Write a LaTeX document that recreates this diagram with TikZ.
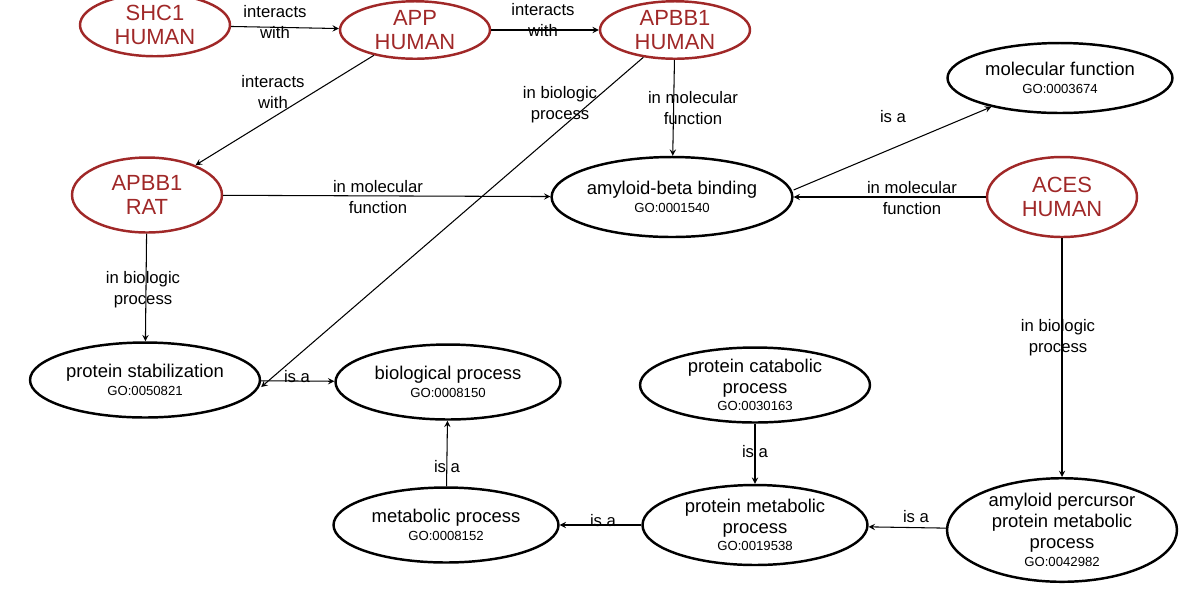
\documentclass[tikz,border=0pt]{standalone}
\usepackage{fontspec}
\setmainfont{Liberation Sans}
\usetikzlibrary{shapes.geometric}
\definecolor{dred}{RGB}{160,40,40}
\begin{document}
\begin{tikzpicture}[x=0.02cm,y=-0.02cm,
 prot/.style={ellipse,draw=dred,line width=1.4pt,text=dred,font=\fontsize{12.5}{14}\selectfont,align=center,inner sep=0pt},
 go/.style={ellipse,draw=black,line width=1.4pt,font=\fontsize{10.5}{12}\selectfont,align=center,inner sep=0pt},
 lab/.style={font=\fontsize{9.5}{12}\selectfont,align=center,inner sep=1pt},
 ar/.style={->,>=stealth,line width=0.6pt}]
\useasboundingbox (0,0) rectangle (1200,600);
\newcommand{\gonum}[1]{\\[-2pt]{\fontsize{7.5}{8}\selectfont #1}}
\node[prot,minimum width=3cm,minimum height=1.25cm] (shc) at (155,25) {SHC1\\HUMAN};
\node[prot,minimum width=3cm,minimum height=1.15cm] (app) at (415,30) {APP\\HUMAN};
\node[prot,minimum width=3cm,minimum height=1.15cm] (apbh) at (675,30) {APBB1\\HUMAN};
\node[go,minimum width=4.5cm,minimum height=1.4cm] (mf) at (1060,78) {molecular function\gonum{GO:0003674}};
\node[prot,minimum width=3cm,minimum height=1.5cm] (apbr) at (147,195) {APBB1\\RAT};
\node[go,minimum width=4.3cm,minimum height=1.6cm] (ab) at (672,197) {amyloid-beta binding\gonum{GO:0001540}};
\node[prot,minimum width=3cm,minimum height=1.6cm] (aces) at (1062,197) {ACES\\HUMAN};
\node[go,minimum width=4.6cm,minimum height=1.5cm] (ps) at (145,380) {protein stabilization\gonum{GO:0050821}};
\node[go,minimum width=4.5cm,minimum height=1.5cm] (bp) at (448,382) {biological process\gonum{GO:0008150}};
\node[go,minimum width=4.6cm,minimum height=1.5cm] (pc) at (755,385) {protein catabolic\\process\gonum{GO:0030163}};
\node[go,minimum width=4.5cm,minimum height=1.5cm] (mp) at (446,525) {metabolic process\gonum{GO:0008152}};
\node[go,minimum width=4.5cm,minimum height=1.6cm] (pm) at (755,525) {protein metabolic\\process\gonum{GO:0019538}};
\node[go,minimum width=4.6cm,minimum height=2cm] (ap) at (1062,530) {amyloid percursor\\protein metabolic\\process\gonum{GO:0042982}};
\draw[ar] (shc) -- (app);
\draw[ar] (app) -- (apbh);
\draw[ar] (app) -- (apbr);
\draw[ar] (apbh) -- ([yshift=-4pt]ps.east);
\draw[ar] (apbh) -- (ab);
\draw[ar] ([yshift=4pt]ab.east) -- (mf);
\draw[ar] (apbr) -- (ab);
\draw[ar] (aces) -- (ab);
\draw[ar] (apbr) -- (ps);
\draw[ar] (aces) -- (ap);
\draw[ar] (ps) -- (bp);
\draw[ar] (mp) -- (bp);
\draw[ar] (pc) -- (pm);
\draw[ar] (pm) -- (mp);
\draw[ar] (ap) -- (pm);
\node[lab] (l1) at (275,22) {interacts\\with};
\node[lab] (l2) at (543,20) {interacts\\with};
\node[lab] (l3) at (273,92) {interacts\\with};
\node[lab] (l4) at (560,105) {in biologic\\process};
\node[lab] (l5) at (693,108) {in molecular\\function};
\node[lab] (l6) at (893,117) {is a};
\node[lab] (l7) at (378,197) {in molecular\\function};
\node[lab] (l8) at (912,198) {in molecular\\function};
\node[lab] (l9) at (143,290) {in biologic\\process};
\node[lab] (l10) at (1058,338) {in biologic\\process};
\node[lab] (l11) at (297,377) {is a};
\node[lab] (l12) at (447,467) {is a};
\node[lab] (l13) at (755,452) {is a};
\node[lab] (l14) at (603,521) {is a};
\node[lab] (l15) at (916,517) {is a};
\end{tikzpicture}
\end{document}
